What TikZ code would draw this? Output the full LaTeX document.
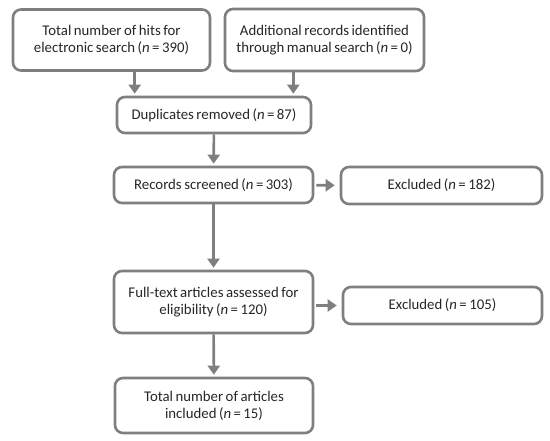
\documentclass[tikz,border=0pt]{standalone}
\usepackage{fontspec}
\setmainfont{Carlito}
\usepackage{tikz}
\usetikzlibrary{arrows.meta, positioning, calc}

\definecolor{boxgray}{HTML}{7F7F7F}
\newcommand{\boxfont}{\fontsize{14.8}{17}\selectfont\spaceskip=0.17em plus 0.05em\relax}

\begin{document}
\begin{tikzpicture}[
        x=1pt, y=-1pt,
        font=\boxfont,
        box/.style={rectangle, rounded corners=8pt, draw=boxgray, line width=2.6pt, align=center, inner sep=0pt, text=black!85},
        arrow/.style={-{Triangle[length=9pt, width=12pt]}, draw=boxgray, fill=boxgray, line width=2.6pt, shorten >=2pt}
    ]
    \useasboundingbox (0,0) rectangle (550,441);

    % Nodes
    \node[box, minimum width=197pt, minimum height=61pt] (total) at (111.5,40) {Total number of hits for\\electronic search (\textit{n}\,=\,390)};
    \node[box, minimum width=199pt, minimum height=62pt] (manual) at (324.5,40) {Additional records identified\\through manual search (\textit{n}\,=\,0)};
    \node[box, minimum width=194pt, minimum height=36pt] (dup) at (214,115) {Duplicates removed (\textit{n}\,=\,87)};
    \node[box, minimum width=199pt, minimum height=36pt] (screened) at (213.5,185) {Records screened (\textit{n}\,=\,303)};
    \node[box, minimum width=201pt, minimum height=37pt] (excl1) at (441.5,185.5) {Excluded (\textit{n}\,=\,182)};
    \node[box, minimum width=199pt, minimum height=62pt] (fulltext) at (213.5,302) {Full-text articles assessed for\\eligibility (\textit{n}\,=\,120)};
    \node[box, minimum width=199pt, minimum height=37pt] (excl2) at (442.5,305.5) {Excluded (\textit{n}\,=\,105)};
    \node[box, minimum width=198pt, minimum height=55pt] (included) at (214,405.5) {Total number of articles\\included (\textit{n}\,=\,15)};

    % Entry points on the duplicates box
    \coordinate (dupL) at ([xshift=19pt]dup.north west);
    \coordinate (dupR) at ([xshift=-19pt]dup.north east);

    % Arrows
    \draw[arrow] (total.south -| dupL) -- (dupL);
    \draw[arrow] (manual.south -| dupR) -- (dupR);
    \draw[arrow] (dup) -- (screened);
    \draw[arrow, shorten <=2pt, shorten >=5pt] (screened) -- (excl1);
    \draw[arrow] (screened) -- (fulltext);
    \draw[arrow, shorten <=2pt, shorten >=5pt] (fulltext.east |- excl2) -- (excl2);
    \draw[arrow] (fulltext) -- (included);

\end{tikzpicture}
\end{document}
